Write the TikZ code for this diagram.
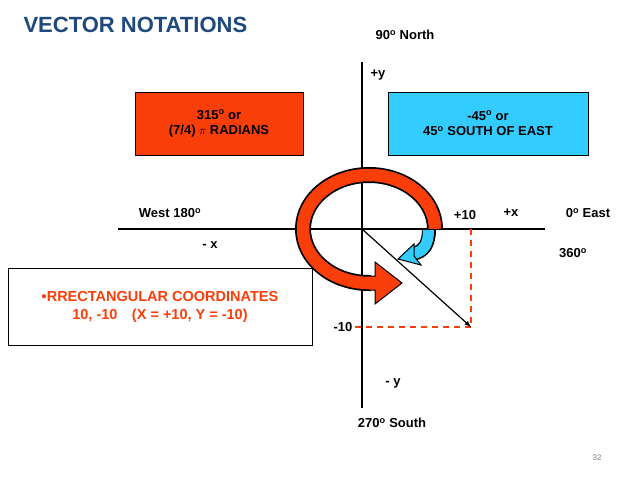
\documentclass[tikz,border=0pt]{standalone}
\usepackage{fontspec}
\setmainfont{Liberation Sans}
\begin{document}
\begin{tikzpicture}[x=1pt,y=-1pt,
  lbl/.style={font=\bfseries\fontsize{13}{15.5}\selectfont,inner sep=1pt},
  boxr/.style={draw=black,fill=myred,align=center,lbl},
  reddash/.style={draw=myred,line width=1.2pt,dash pattern=on 6pt off 5pt}]
\definecolor{myred}{RGB}{250,62,10}
\definecolor{myblue}{RGB}{51,204,255}
\definecolor{titleblue}{RGB}{31,73,125}
\useasboundingbox (0,0) rectangle (638,479);
\coordinate (O) at (362,229);
\coordinate (P) at (471,327);
\coordinate (Q) at (471,229);
\coordinate (R) at (355,327);
\draw[line width=1.6pt] (118,229) coordinate (xl) -- (545,229) coordinate (xr);
\draw[line width=1.6pt] (362,62) -- (362,408);
\node[font=\bfseries\fontsize{22}{25}\selectfont,text=titleblue,anchor=west] (title) at (20,25) {VECTOR NOTATIONS};
\node[lbl] (n90) at (405,35) {90\textsuperscript{o} North};
\node[lbl] (py) at (378,75) {+y};
\node[boxr,minimum width=168pt,minimum height=63pt] (rb) at (219,123.5) {315\textsuperscript{o} or\\(7/4) $\pi$ RADIANS};
\node[boxr,fill=myblue,minimum width=200pt,minimum height=63pt] (bb) at (488,123.5) {-45\textsuperscript{o} or\\45\textsuperscript{o} SOUTH OF EAST};
\node[lbl] (west) at (170,213) {West 180\textsuperscript{o}};
\node[lbl] (mx) at (210,245) {- x};
\node[lbl] (p10) at (465,215) {+10};
\node[lbl] (px) at (511,213) {+x};
\node[lbl] (east) at (588,213) {0\textsuperscript{o} East};
\node[lbl] (n360) at (573,253) {360\textsuperscript{o}};
\node[lbl] (m10) at (343,327) {-10};
\node[lbl] (my) at (393,383) {- y};
\node[lbl] (n270) at (392,423) {270\textsuperscript{o} South};
\node[font=\fontsize{8}{9}\selectfont,text=gray] (pg) at (597,458) {32};
\node[draw=black,line width=1pt,minimum width=304pt,minimum height=77pt,text=myred,align=center,font=\bfseries\fontsize{14.5}{18}\selectfont] (lb) at (160,306.5)
  {\textbullet RRECTANGULAR COORDINATES\\10, -10\quad(X = +10, Y = -10)};
\draw[reddash] (Q) -- (P);
\draw[reddash] (R) -- (P);
\draw[line width=1.2pt,-latex] (O) -- (P);
% red arc band
\draw[line width=16pt] (435,229) arc[start angle=0,end angle=-270,x radius=66,y radius=54] -- ++(2,0);
\draw[line width=12.5pt,myred] (435,229) arc[start angle=0,end angle=-270,x radius=66,y radius=54] -- ++(3,0);
\fill[myred,draw=black,line width=1pt] (369,276) -- (375,276) -- (375,262) -- (402,283) -- (375,304) -- (375,290) -- (369,290);
\fill[myred] (368,277) rectangle (376,289);
% blue arrow
\draw[line width=14pt] (429,229) .. controls (429,244) and (424,252) .. (412,254);
\draw[line width=11pt,myblue] (428.5,230) .. controls (428.5,244) and (424,252) .. (412,254);
\fill[myblue,draw=black,line width=1pt] (414,244) -- (398,259) -- (421,265) -- (414,256) -- cycle;
\end{tikzpicture}
\end{document}
